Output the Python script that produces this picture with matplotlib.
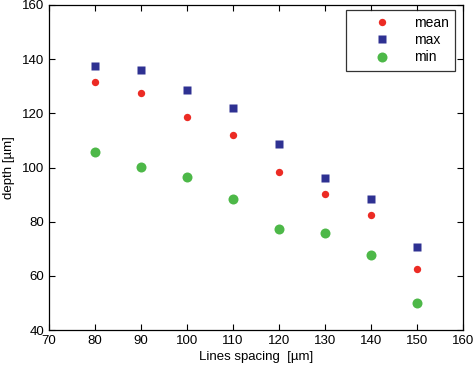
import numpy as np
import matplotlib.pyplot as plt

plt.rcParams['font.family'] = ['Liberation Sans', 'DejaVu Sans']

# data
spacing = [80, 90, 100, 110, 120, 130, 140, 150]
depth_mean = [131.7, 127.5, 118.5, 112.0, 98.3, 90.1, 82.5, 62.5]
depth_max = [137.6, 136.1, 128.6, 121.9, 108.7, 96.2, 88.4, 70.8]
depth_min = [105.7, 100.2, 96.5, 88.2, 77.3, 75.9, 67.8, 50.1]

fig = plt.figure(figsize=(4.74, 3.70), dpi=100)
ax = fig.add_axes([0.1034, 0.108, 0.8736, 0.8785])

ax.plot(spacing, depth_mean, 'o', color='#ec2b24', markersize=5.3, mec='none', label='mean')
ax.plot(spacing, depth_max, 's', color='#2e3192', markersize=5.3, mec='none', label='max')
ax.plot(spacing, depth_min, 'o', color='#4db848', markersize=7.2, mec='none', label='min')

ax.set_xlim(70, 160)
ax.set_ylim(40, 160)
ax.set_xticks(np.arange(70, 161, 10))
ax.set_yticks(np.arange(40, 161, 20))
ax.tick_params(direction='in', top=True, right=True, labelsize=9.5, length=4, width=0.8)
for s in ax.spines.values():
    s.set_linewidth(0.9)

ax.set_xlabel('Lines spacing  [\u00b5m]', fontsize=9.5, labelpad=3)
ax.set_ylabel('depth [\u00b5m]', fontsize=9.5, labelpad=5)

leg = ax.legend(loc='upper right', fontsize=10, frameon=True, fancybox=False,
                edgecolor='black', handlelength=4.3, handletextpad=0.15,
                borderpad=0.45, labelspacing=0.22, borderaxespad=0,
                bbox_to_anchor=(0.9807, 0.9846))
leg.get_frame().set_linewidth(0.9)

fig.savefig('out.png', dpi=100)
